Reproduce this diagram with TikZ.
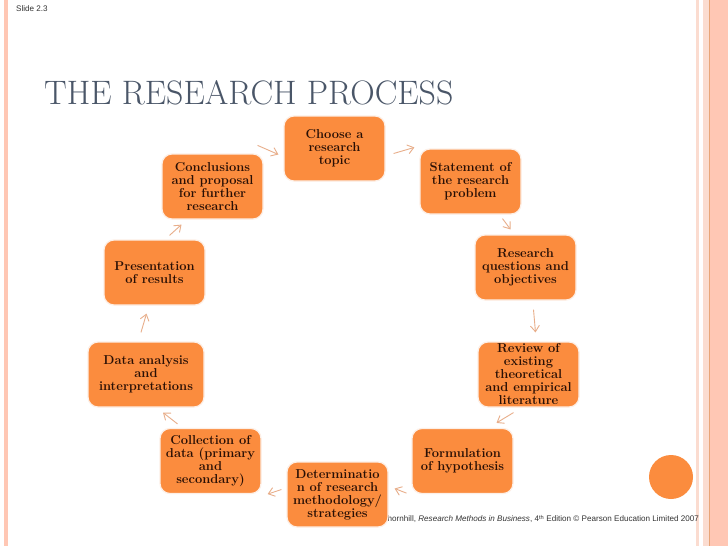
\documentclass[tikz,border=0pt]{standalone}
\usepackage{fontspec}
\usetikzlibrary{calc,arrows.meta}
\newfontfamily\arialfont{Liberation Sans}
\definecolor{boxorange}{HTML}{FB8C3E}
\definecolor{halo}{HTML}{FDEFE6}
\definecolor{flowc}{HTML}{E8AE8A}
\definecolor{bandc}{HTML}{FFC7B4}
\definecolor{bandpale}{HTML}{FBDCD0}
\definecolor{bandline}{HTML}{E8A578}
\definecolor{titlec}{HTML}{4A5668}
\definecolor{inkc}{HTML}{2A1005}
\tikzset{
 stepbox/.style={draw=halo,line width=1.2pt,fill=boxorange,rounded corners=10pt,inner sep=0pt,
   minimum width=#1,minimum height=65pt,align=center,text=inkc,
   font=\fontsize{12.9}{13}\selectfont\bfseries\addfontfeature{FakeBold=1.2}},
 stepbox/.default=101pt,
 flow/.style={draw=flowc,line width=0.9pt,-{Straight Barb[length=6pt,width=9pt,line width=0.9pt]}},
 small/.style={inner sep=0pt,font=\arialfont\fontsize{8.1}{9}\selectfont,text=black!80},
}
\begin{document}
\begin{tikzpicture}[x=1pt,y=-1pt]
\useasboundingbox (0,0) rectangle (728,546);
\fill[white] (0,0) rectangle (728,546);
% side bands
\fill[bandc] (4,0) rectangle (8,546);
\fill[bandpale] (696,0) rectangle (699,546);
\fill[bandpale] (703,0) rectangle (709,546);
\fill[bandc] (709,0) rectangle (728,546);
\draw[bandline,line width=0.8pt] (709,0) -- (709,546);
\node[small,anchor=west] (slide) at (16,9) {Slide 2.3};
\node[inner sep=0pt,anchor=west,text=titlec,font=\fontsize{33.9}{36}\selectfont\addfontfeature{FakeBold=1.5}] (title) at (44,93) {THE RESEARCH PROCESS};
\node[small,anchor=east] (foot) at (699,519) {hornhill, \textit{Research Methods in Business}, 4\textsuperscript{th} Edition © Pearson Education Limited 2007};
% steps
\node[stepbox] (choose) at (334.5,148.5) {Choose a\\research\\topic};
\node[stepbox] (statement) at (470.5,181.5) {Statement of\\the research\\problem};
\node[stepbox] (questions) at (525.5,267.5) {Research\\questions and\\objectives};
\node[stepbox] (review) at (528.5,374.5) {Review of\\existing\\theoretical\\and empirical\\literature};
\node[stepbox] (hypothesis) at (462.5,461) {Formulation\\of hypothesis};
\node[stepbox] (method) at (337.5,494.5) {Determinatio\\n of research\\methodology/\\strategies};
\node[stepbox] (collection) at (210.5,461) {Collection of\\data (primary\\and\\secondary)};
\node[stepbox=116pt] (analysis) at (146,374.5) {Data analysis\\and\\interpretations};
\node[stepbox] (presentation) at (154.5,272.5) {Presentation\\of results};
\node[stepbox] (conclusions) at (212.5,186.5) {Conclusions\\and proposal\\for further\\research};
% connectors
\draw[flow] ($(choose.east)+(8,5)$) -- ($(statement.north west)+(-5,-1)$);
\draw[flow] ($(statement.south)+(32,4)$) -- ($(questions.north)+(-15,-5)$);
\draw[flow] ($(questions.south)+(8,9)$) -- ($(review.north)+(7,-9)$);
\draw[flow] ($(review.south)+(-15,5)$) -- ($(hypothesis.north)+(34,-5)$);
\draw[flow] ($(hypothesis.south west)+(-5,-1)$) -- ($(method.east)+(6,-6)$);
\draw[flow] ($(method.west)+(-5,-5)$) -- ($(collection.south east)+(6,0)$);
\draw[flow] ($(collection.north)+(-33,-4)$) -- ($(analysis.south)+(17,5)$);
\draw[flow] ($(analysis.north)+(-5,-9)$) -- ($(presentation.south)+(-8,8)$);
\draw[flow] ($(presentation.north)+(15,-4)$) -- ($(conclusions.south)+(-31,5)$);
\draw[flow] ($(conclusions.north east)+(-6,-8)$) -- ($(choose.west)+(-5,6)$);
% circle
\fill[boxorange] (671,477) circle (22);
\end{tikzpicture}
\end{document}
